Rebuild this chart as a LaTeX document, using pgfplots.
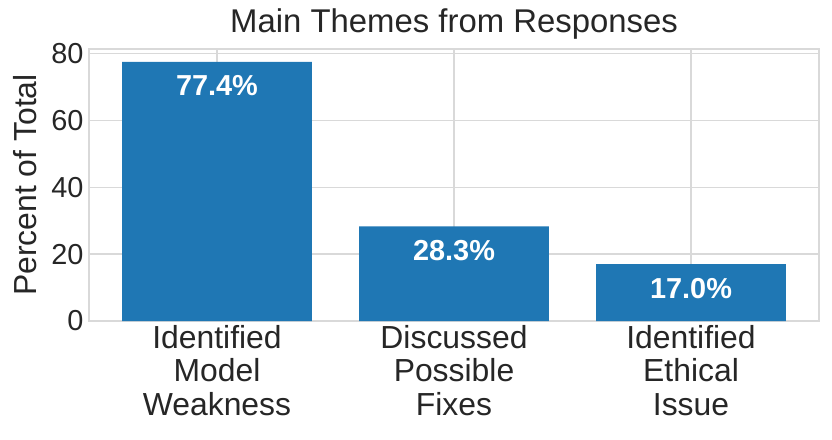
\documentclass[border=0pt]{standalone}
\usepackage{pgfplots}
\pgfplotsset{compat=1.18}
\usepackage{fontspec}
\setmainfont{Liberation Sans}
\definecolor{barblue}{HTML}{1F77B4}
\definecolor{txt}{HTML}{262626}
\definecolor{gridc}{HTML}{D9D9D9}
\begin{document}
\begin{tikzpicture}
\begin{axis}[
  name=ax,
  scale only axis,
  width=730bp, height=272bp,
  xmin=-0.54, xmax=2.54,
  ymin=0, ymax=81.27,
  ytick={0,20,40,60,80},
  xtick={0,1,2},
  xticklabels={{Identified\\Model\\Weakness},{Discussed\\Possible\\Fixes},{Identified\\Ethical\\Issue}},
  xticklabel style={align=center, font=\fontsize{32}{33.5}\selectfont, text=txt},
  yticklabel style={font=\fontsize{29}{33}\selectfont, text=txt},
  /pgf/number format/assume math mode=true,
  major tick length=0pt,
  grid=major,
  major grid style={gridc, line width=1.2pt},
  axis line style={gridc, line width=1.4pt},
  xticklabel shift=1bp,
  yticklabel shift=2bp,
  title={Main Themes from Responses},
  title style={at={(0.5,1)}, anchor=base, yshift=11bp, font=\fontsize{33}{38}\selectfont, text=txt},
  ylabel={Percent of Total},
  every axis y label/.style={at={(rel axis cs:0,0.5)}, xshift=-64bp, rotate=90, anchor=center, font=\fontsize{32}{36}\selectfont, text=txt},
]
\addplot[ybar, bar width=0.8, fill=barblue, draw=none,
  nodes near coords={\pgfmathprintnumber[fixed,precision=1,fixed zerofill]{\pgfplotspointmeta}\%},
  every node near coord/.append style={anchor=center, yshift=-24bp, text=white, font=\fontsize{29}{33}\selectfont\bfseries, /pgf/number format/assume math mode=true},
] coordinates {(0,77.4) (1,28.3) (2,17.0)};
\end{axis}
\path (ax.south west) ++(-89bp,-119bp) coordinate (bl);
\path (ax.north east) ++(13bp,49bp) coordinate (tr);
\useasboundingbox (bl) rectangle (tr);
\end{tikzpicture}
\end{document}
